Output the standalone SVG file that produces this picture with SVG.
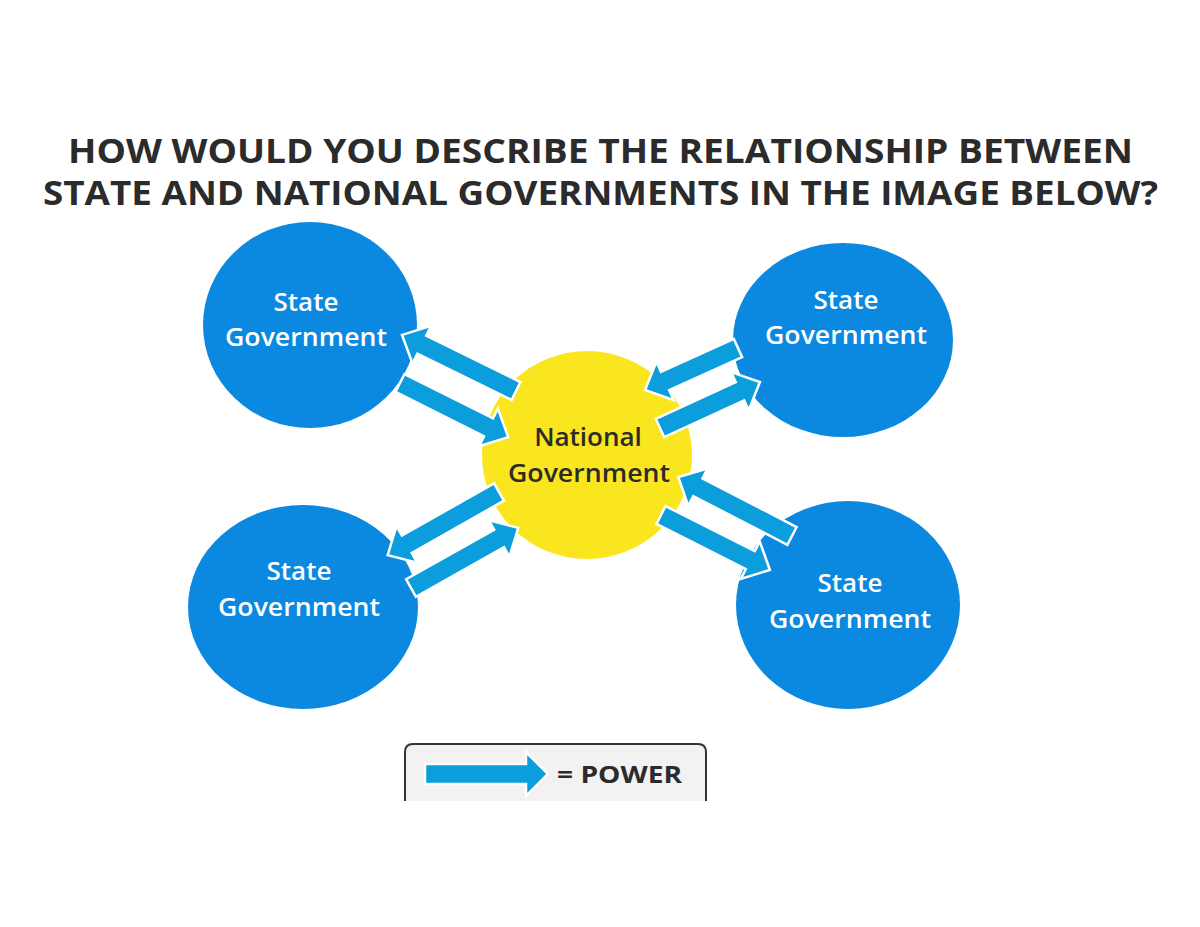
<svg xmlns="http://www.w3.org/2000/svg" width="1200" height="927" viewBox="0 0 1200 927">
<defs>
<style>
.title{font-family:"Open Sans","Liberation Sans",sans-serif;font-weight:700;font-size:34px;fill:#2b2b2b}
.state{fill:#0b88e0}
.nat{fill:#f9e61e}
.lbl{font-family:"Open Sans","Liberation Sans",sans-serif;font-weight:600;font-size:26px;text-anchor:middle}
.w{fill:#ffffff}
.d{fill:#2b2b2b}
.arr{fill:#0b9ddc;stroke:#ffffff;stroke-width:2.5;stroke-linejoin:miter}
.leg{font-family:"Open Sans","Liberation Sans",sans-serif;font-weight:700;font-size:24px;fill:#2b2b2b}
</style>
</defs>
<rect width="1200" height="927" fill="#ffffff"/>
<g id="title">
<text class="title" x="68" y="163" textLength="1065" lengthAdjust="spacingAndGlyphs">HOW WOULD YOU DESCRIBE THE RELATIONSHIP BETWEEN</text>
<text class="title" x="43" y="205" textLength="1115" lengthAdjust="spacingAndGlyphs">STATE AND NATIONAL GOVERNMENTS IN THE IMAGE BELOW?</text>
</g>
<g id="state-tl">
<ellipse class="state" cx="310" cy="325" rx="107" ry="103"/>
<text class="lbl w" x="306" y="311">State</text>
<text class="lbl w" x="306" y="346" textLength="162" lengthAdjust="spacingAndGlyphs">Government</text>
</g>
<g id="state-tr">
<ellipse class="state" cx="843" cy="340" rx="110" ry="97"/>
<text class="lbl w" x="846" y="309">State</text>
<text class="lbl w" x="846" y="344" textLength="162" lengthAdjust="spacingAndGlyphs">Government</text>
</g>
<g id="state-bl">
<ellipse class="state" cx="303" cy="607" rx="115" ry="102"/>
<text class="lbl w" x="299" y="580">State</text>
<text class="lbl w" x="299" y="616" textLength="162" lengthAdjust="spacingAndGlyphs">Government</text>
</g>
<g id="state-br">
<ellipse class="state" cx="848" cy="605" rx="112" ry="104"/>
<text class="lbl w" x="850" y="592">State</text>
<text class="lbl w" x="850" y="628" textLength="162" lengthAdjust="spacingAndGlyphs">Government</text>
</g>
<g id="national">
<ellipse class="nat" cx="587" cy="455" rx="105" ry="104"/>
<text class="lbl d" x="588" y="446">National</text>
<text class="lbl d" x="589" y="482" textLength="162" lengthAdjust="spacingAndGlyphs">Government</text>
</g>
<g id="connectors">
<path class="arr" transform="translate(516,391) rotate(206.2)" d="M0,-10 H105 V-21 L127,0 L105,21 V10 H0 Z"/>
<path class="arr" transform="translate(400,383) rotate(26.6)" d="M0,-10 H99 V-21 L121,0 L99,21 V10 H0 Z"/>
<path class="arr" transform="translate(738,348) rotate(155.7)" d="M0,-10 H80 V-21 L102,0 L80,21 V10 H0 Z"/>
<path class="arr" transform="translate(660,428) rotate(-24.7)" d="M0,-10 H88 V-21 L110,0 L88,21 V10 H0 Z"/>
<path class="arr" transform="translate(499,492) rotate(150.4)" d="M0,-10 H106 V-21 L128,0 L106,21 V10 H0 Z"/>
<path class="arr" transform="translate(411,588) rotate(-29.3)" d="M0,-10 H101 V-21 L123,0 L101,21 V10 H0 Z"/>
<path class="arr" transform="translate(792,536) rotate(207.4)" d="M0,-10 H106 V-21 L128,0 L106,21 V10 H0 Z"/>
<path class="arr" transform="translate(661,515) rotate(26.8)" d="M0,-10 H100 V-21 L122,0 L100,21 V10 H0 Z"/>
</g>
<g id="legend">
<path d="M405,801 V752 Q405,744 413,744 H698 Q706,744 706,752 V801 Z" fill="#f2f2f2"/>
<path d="M405,801 V752 Q405,744 413,744 H698 Q706,744 706,752 V801" fill="none" stroke="#333333" stroke-width="2"/>
<path class="arr" d="M425,764 H526 V752 L548,774 L526,796 V784 H425 Z"/>
<text class="leg" x="557" y="783" textLength="125" lengthAdjust="spacingAndGlyphs">= POWER</text>
</g>
</svg>
